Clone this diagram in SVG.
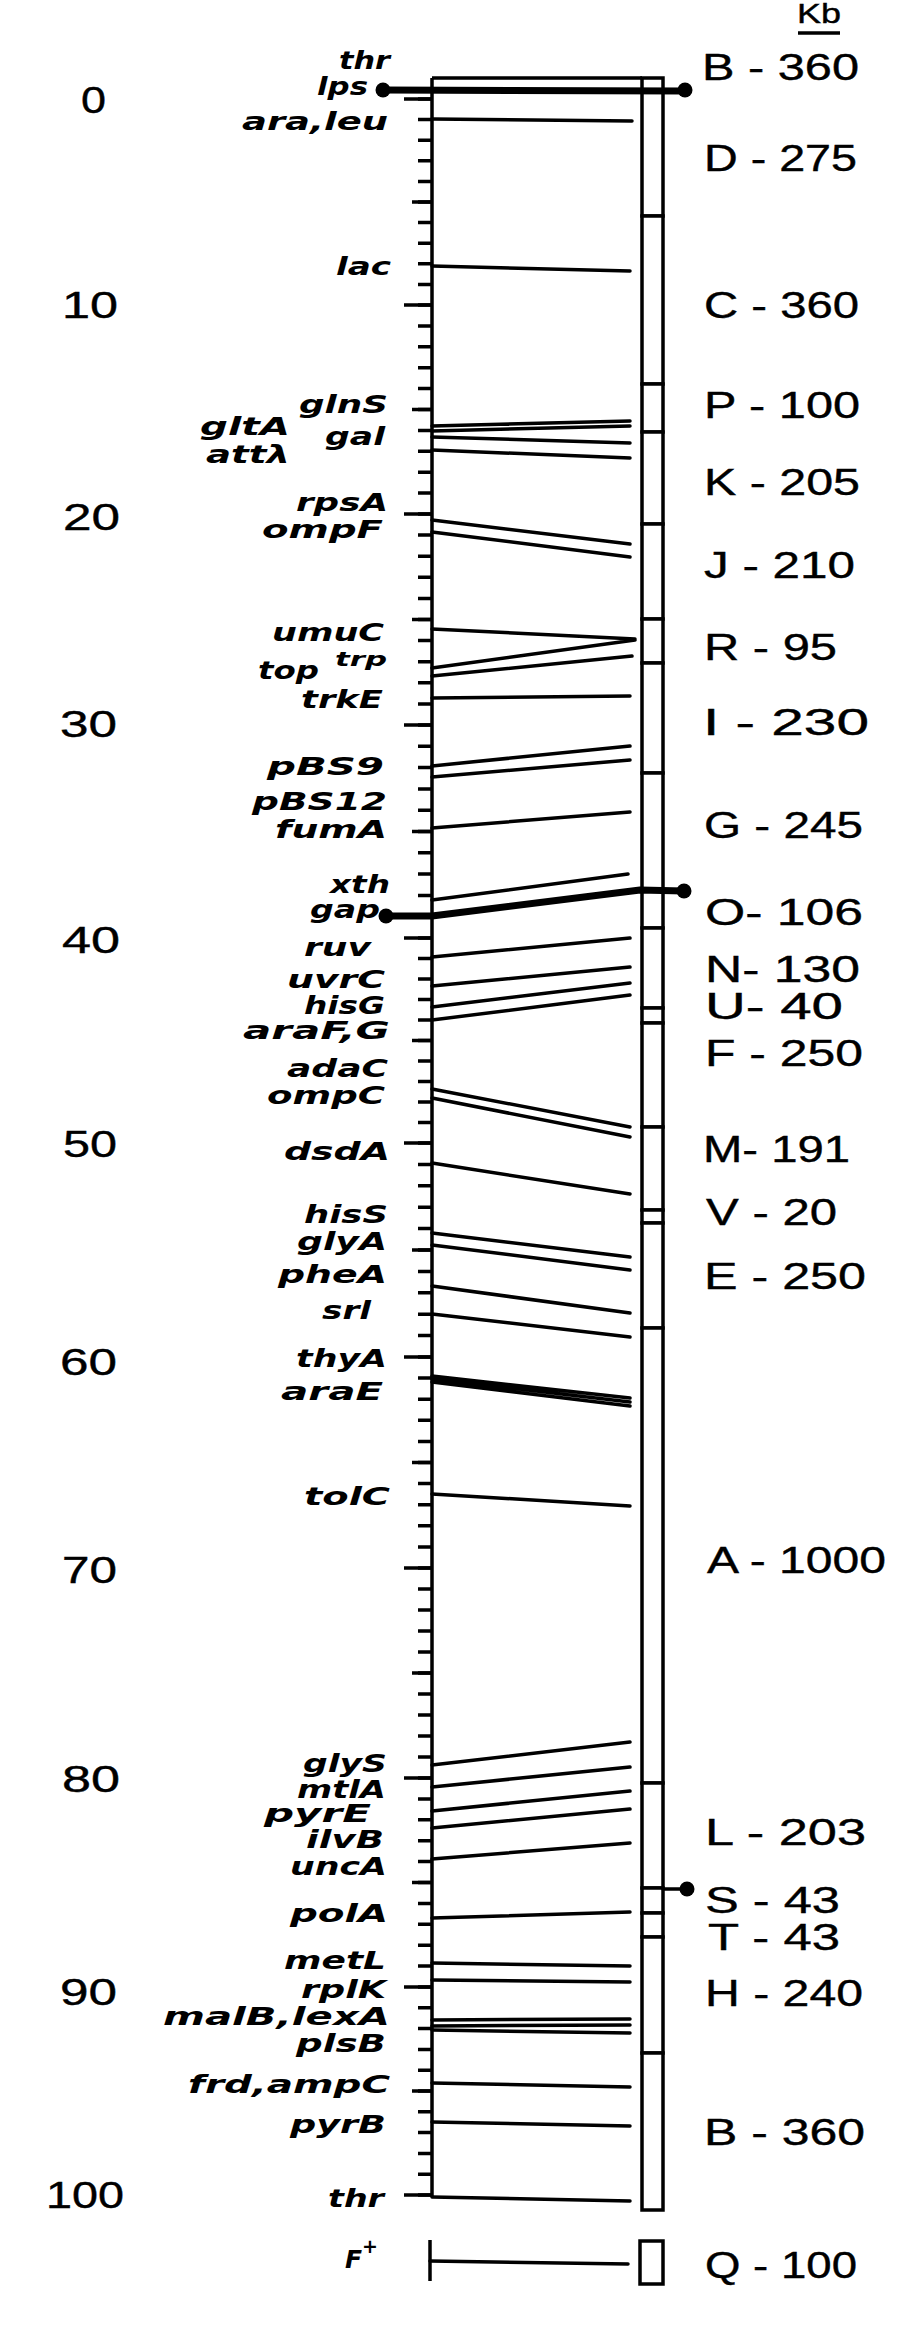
<svg xmlns="http://www.w3.org/2000/svg" width="905" height="2347" viewBox="0 0 905 2347">
<style>
.ln{stroke:#000;stroke-width:3.5;fill:none;stroke-linecap:round}
.tk{stroke:#000;stroke-width:3.5;fill:none}
.th{stroke:#000;stroke-width:7;fill:none;stroke-linecap:round;stroke-linejoin:round}
.seg{stroke:#000;stroke-width:3.5;fill:#fff}
.dot{fill:#000}
.g{font-family:"DejaVu Sans","Liberation Sans",sans-serif;font-style:oblique;font-weight:bold;font-size:25px;fill:#000}
.gs{font-size:19px}
.r{font-family:"Liberation Sans","DejaVu Sans",sans-serif;font-size:37px;fill:#000;stroke:#000;stroke-width:0.4}
.kb{font-size:28px}
</style>
<rect width="905" height="2347" fill="#fff"/>

<g id="scale">
<path class="tk" d="M432 78V2197M432 78H642"/>
<path class="tk" d="M418 99h14m-14 20.6h14m-14 20.6h14m-14 20.6h14m-14 20.6h14m-14 20.6h14m-14 20.6h14m-14 20.6h14m-14 20.6h14m-14 20.6h14
M418 305h14m-14 20.9h14m-14 20.9h14m-14 20.9h14m-14 20.9h14m-14 20.9h14m-14 20.9h14m-14 20.9h14m-14 20.9h14m-14 20.9h14
M418 514h14m-14 21.1h14m-14 21.1h14m-14 21.1h14m-14 21.1h14m-14 21.1h14m-14 21.1h14m-14 21.1h14m-14 21.1h14m-14 21.1h14
M418 725h14m-14 21.3h14m-14 21.3h14m-14 21.3h14m-14 21.3h14m-14 21.3h14m-14 21.3h14m-14 21.3h14m-14 21.3h14m-14 21.3h14
M418 938h14m-14 20.5h14m-14 20.5h14m-14 20.5h14m-14 20.5h14m-14 20.5h14m-14 20.5h14m-14 20.5h14m-14 20.5h14m-14 20.5h14
M418 1143h14m-14 21.4h14m-14 21.4h14m-14 21.4h14m-14 21.4h14m-14 21.4h14m-14 21.4h14m-14 21.4h14m-14 21.4h14m-14 21.4h14
M418 1357h14m-14 21.1h14m-14 21.1h14m-14 21.1h14m-14 21.1h14m-14 21.1h14m-14 21.1h14m-14 21.1h14m-14 21.1h14m-14 21.1h14
M418 1568h14m-14 21h14m-14 21h14m-14 21h14m-14 21h14m-14 21h14m-14 21h14m-14 21h14m-14 21h14m-14 21h14
M418 1778h14m-14 20.9h14m-14 20.9h14m-14 20.9h14m-14 20.9h14m-14 20.9h14m-14 20.9h14m-14 20.9h14m-14 20.9h14m-14 20.9h14
M418 1987h14m-14 20.8h14m-14 20.8h14m-14 20.8h14m-14 20.8h14m-14 20.8h14m-14 20.8h14m-14 20.8h14m-14 20.8h14m-14 20.8h14
M418 2195h14"/>
<path class="tk" d="M412 202h20M412 409.5h20M412 619.5h20M412 831.5h20M412 1040.5h20M412 1250h20M412 1462.5h20M412 1673h20M412 1882.5h20M412 2091h20"/>
<path class="tk" d="M404 99h28M404 305h28M404 514h28M404 725h28M404 938h28M404 1143h28M404 1357h28M404 1568h28M404 1778h28M404 1987h28M404 2195h28"/>
<text class="r" x="81" y="113" textLength="25" lengthAdjust="spacingAndGlyphs">0</text>
<text class="r" x="62" y="318" textLength="56" lengthAdjust="spacingAndGlyphs">10</text>
<text class="r" x="63" y="530" textLength="57" lengthAdjust="spacingAndGlyphs">20</text>
<text class="r" x="60" y="737" textLength="57" lengthAdjust="spacingAndGlyphs">30</text>
<text class="r" x="62" y="953" textLength="58" lengthAdjust="spacingAndGlyphs">40</text>
<text class="r" x="63" y="1157" textLength="54" lengthAdjust="spacingAndGlyphs">50</text>
<text class="r" x="60" y="1375" textLength="57" lengthAdjust="spacingAndGlyphs">60</text>
<text class="r" x="62" y="1583" textLength="55" lengthAdjust="spacingAndGlyphs">70</text>
<text class="r" x="62" y="1792" textLength="58" lengthAdjust="spacingAndGlyphs">80</text>
<text class="r" x="60" y="2005" textLength="57" lengthAdjust="spacingAndGlyphs">90</text>
<text class="r" x="46" y="2208" textLength="78" lengthAdjust="spacingAndGlyphs">100</text>
<g id="kb-header">
<text class="r kb" x="797" y="23" textLength="44" lengthAdjust="spacingAndGlyphs">Kb</text>
<path class="tk" d="M798 33H840"/>
</g>
</g>

<g id="fragments">
<g id="frag-B-top"><rect class="seg" x="642" y="78" width="21" height="12"/><text class="r" x="702" y="80" textLength="157" lengthAdjust="spacingAndGlyphs">B - 360</text></g>
<g id="frag-D"><rect class="seg" x="642" y="90" width="21" height="126"/><text class="r" x="704" y="171" textLength="153" lengthAdjust="spacingAndGlyphs">D - 275</text></g>
<g id="frag-C"><rect class="seg" x="642" y="216" width="21" height="168"/><text class="r" x="704" y="318" textLength="155" lengthAdjust="spacingAndGlyphs">C - 360</text></g>
<g id="frag-P"><rect class="seg" x="642" y="384" width="21" height="48"/><text class="r" x="704" y="418" textLength="156" lengthAdjust="spacingAndGlyphs">P - 100</text></g>
<g id="frag-K"><rect class="seg" x="642" y="432" width="21" height="92"/><text class="r" x="704" y="495" textLength="156" lengthAdjust="spacingAndGlyphs">K - 205</text></g>
<g id="frag-J"><rect class="seg" x="642" y="524" width="21" height="95"/><text class="r" x="704" y="578" textLength="151" lengthAdjust="spacingAndGlyphs">J - 210</text></g>
<g id="frag-R"><rect class="seg" x="642" y="619" width="21" height="44"/><text class="r" x="704" y="660" textLength="133" lengthAdjust="spacingAndGlyphs">R - 95</text></g>
<g id="frag-I"><rect class="seg" x="642" y="663" width="21" height="110"/><text class="r" x="703" y="735" textLength="166" lengthAdjust="spacingAndGlyphs">I - 230</text></g>
<g id="frag-G"><rect class="seg" x="642" y="773" width="21" height="117"/><text class="r" x="704" y="838" textLength="159" lengthAdjust="spacingAndGlyphs">G - 245</text></g>
<g id="frag-O"><rect class="seg" x="642" y="890" width="21" height="38"/><text class="r" x="705" y="925" textLength="158" lengthAdjust="spacingAndGlyphs">O- 106</text></g>
<g id="frag-N"><rect class="seg" x="642" y="928" width="21" height="80"/><text class="r" x="705" y="982" textLength="155" lengthAdjust="spacingAndGlyphs">N- 130</text></g>
<g id="frag-U"><rect class="seg" x="642" y="1008" width="21" height="15"/><text class="r" x="705" y="1019" textLength="138" lengthAdjust="spacingAndGlyphs">U- 40</text></g>
<g id="frag-F"><rect class="seg" x="642" y="1023" width="21" height="104"/><text class="r" x="705" y="1066" textLength="158" lengthAdjust="spacingAndGlyphs">F - 250</text></g>
<g id="frag-M"><rect class="seg" x="642" y="1127" width="21" height="83"/><text class="r" x="703" y="1162" textLength="147" lengthAdjust="spacingAndGlyphs">M- 191</text></g>
<g id="frag-V"><rect class="seg" x="642" y="1210" width="21" height="13"/><text class="r" x="706" y="1225" textLength="131" lengthAdjust="spacingAndGlyphs">V - 20</text></g>
<g id="frag-E"><rect class="seg" x="642" y="1223" width="21" height="105"/><text class="r" x="704" y="1289" textLength="162" lengthAdjust="spacingAndGlyphs">E - 250</text></g>
<g id="frag-A"><rect class="seg" x="642" y="1328" width="21" height="455"/><text class="r" x="707" y="1573" textLength="179" lengthAdjust="spacingAndGlyphs">A - 1000</text></g>
<g id="frag-L"><rect class="seg" x="642" y="1783" width="21" height="105"/><text class="r" x="705" y="1845" textLength="161" lengthAdjust="spacingAndGlyphs">L - 203</text></g>
<g id="frag-S"><rect class="seg" x="642" y="1888" width="21" height="25"/><text class="r" x="705" y="1913" textLength="135" lengthAdjust="spacingAndGlyphs">S - 43</text></g>
<g id="frag-T"><rect class="seg" x="642" y="1913" width="21" height="24"/><text class="r" x="708" y="1950" textLength="132" lengthAdjust="spacingAndGlyphs">T - 43</text></g>
<g id="frag-H"><rect class="seg" x="642" y="1937" width="21" height="116"/><text class="r" x="705" y="2006" textLength="158" lengthAdjust="spacingAndGlyphs">H - 240</text></g>
<g id="frag-B-bottom"><rect class="seg" x="642" y="2053" width="21" height="157"/><text class="r" x="704" y="2145" textLength="161" lengthAdjust="spacingAndGlyphs">B - 360</text></g>
<g id="frag-Q"><rect class="seg" x="640" y="2241" width="23" height="43"/><text class="r" x="705" y="2278" textLength="152" lengthAdjust="spacingAndGlyphs">Q - 100</text></g>
</g>

<g id="genes">
<g id="gene-thr-top"><text class="g" x="339" y="69" textLength="51" lengthAdjust="spacingAndGlyphs">thr</text></g>
<g id="gene-lps"><text class="g" x="317" y="95" textLength="51" lengthAdjust="spacingAndGlyphs">lps</text></g>
<g id="gene-ara-leu"><text class="g" x="242" y="130" textLength="146" lengthAdjust="spacingAndGlyphs">ara,leu</text></g>
<g id="gene-lac"><text class="g" x="336" y="275" textLength="55" lengthAdjust="spacingAndGlyphs">lac</text></g>
<g id="gene-glnS"><text class="g" x="299" y="413" textLength="89" lengthAdjust="spacingAndGlyphs">glnS</text></g>
<g id="gene-gltA"><text class="g" x="200" y="435" textLength="90" lengthAdjust="spacingAndGlyphs">gltA</text></g>
<g id="gene-gal"><text class="g" x="325" y="445" textLength="60" lengthAdjust="spacingAndGlyphs">gal</text></g>
<g id="gene-att"><text class="g" x="206" y="463" textLength="84" lengthAdjust="spacingAndGlyphs">attλ</text></g>
<g id="gene-rpsA"><text class="g" x="296" y="511" textLength="92" lengthAdjust="spacingAndGlyphs">rpsA</text></g>
<g id="gene-ompF"><text class="g" x="262" y="538" textLength="121" lengthAdjust="spacingAndGlyphs">ompF</text></g>
<g id="gene-umuC"><text class="g" x="272" y="641" textLength="112" lengthAdjust="spacingAndGlyphs">umuC</text></g>
<g id="gene-trp"><text class="g gs" x="335" y="666" textLength="52" lengthAdjust="spacingAndGlyphs">trp</text></g>
<g id="gene-top"><text class="g" x="258" y="679" textLength="61" lengthAdjust="spacingAndGlyphs">top</text></g>
<g id="gene-trkE"><text class="g" x="301" y="708" textLength="82" lengthAdjust="spacingAndGlyphs">trkE</text></g>
<g id="gene-pBS9"><text class="g" x="267" y="775" textLength="117" lengthAdjust="spacingAndGlyphs">pBS9</text></g>
<g id="gene-pBS12"><text class="g" x="252" y="810" textLength="135" lengthAdjust="spacingAndGlyphs">pBS12</text></g>
<g id="gene-fumA"><text class="g" x="275" y="838" textLength="112" lengthAdjust="spacingAndGlyphs">fumA</text></g>
<g id="gene-xth"><text class="g" x="330" y="893" textLength="60" lengthAdjust="spacingAndGlyphs">xth</text></g>
<g id="gene-gap"><text class="g" x="310" y="918" textLength="70" lengthAdjust="spacingAndGlyphs">gap</text></g>
<g id="gene-ruv"><text class="g" x="304" y="956" textLength="67" lengthAdjust="spacingAndGlyphs">ruv</text></g>
<g id="gene-uvrC"><text class="g" x="287" y="988" textLength="98" lengthAdjust="spacingAndGlyphs">uvrC</text></g>
<g id="gene-hisG"><text class="g" x="304" y="1014" textLength="81" lengthAdjust="spacingAndGlyphs">hisG</text></g>
<g id="gene-araFG"><text class="g" x="243" y="1039" textLength="147" lengthAdjust="spacingAndGlyphs">araF,G</text></g>
<g id="gene-adaC"><text class="g" x="287" y="1077" textLength="101" lengthAdjust="spacingAndGlyphs">adaC</text></g>
<g id="gene-ompC"><text class="g" x="267" y="1104" textLength="118" lengthAdjust="spacingAndGlyphs">ompC</text></g>
<g id="gene-dsdA"><text class="g" x="284" y="1160" textLength="106" lengthAdjust="spacingAndGlyphs">dsdA</text></g>
<g id="gene-hisS"><text class="g" x="304" y="1223" textLength="84" lengthAdjust="spacingAndGlyphs">hisS</text></g>
<g id="gene-glyA"><text class="g" x="297" y="1250" textLength="90" lengthAdjust="spacingAndGlyphs">glyA</text></g>
<g id="gene-pheA"><text class="g" x="278" y="1283" textLength="109" lengthAdjust="spacingAndGlyphs">pheA</text></g>
<g id="gene-srl"><text class="g" x="322" y="1319" textLength="49" lengthAdjust="spacingAndGlyphs">srl</text></g>
<g id="gene-thyA"><text class="g" x="296" y="1367" textLength="91" lengthAdjust="spacingAndGlyphs">thyA</text></g>
<g id="gene-araE"><text class="g" x="281" y="1400" textLength="102" lengthAdjust="spacingAndGlyphs">araE</text></g>
<g id="gene-tolC"><text class="g" x="304" y="1505" textLength="86" lengthAdjust="spacingAndGlyphs">tolC</text></g>
<g id="gene-glyS"><text class="g" x="303" y="1772" textLength="84" lengthAdjust="spacingAndGlyphs">glyS</text></g>
<g id="gene-mtlA"><text class="g" x="297" y="1798" textLength="89" lengthAdjust="spacingAndGlyphs">mtlA</text></g>
<g id="gene-pyrE"><text class="g" x="264" y="1822" textLength="107" lengthAdjust="spacingAndGlyphs">pyrE</text></g>
<g id="gene-ilvB"><text class="g" x="306" y="1848" textLength="78" lengthAdjust="spacingAndGlyphs">ilvB</text></g>
<g id="gene-uncA"><text class="g" x="290" y="1875" textLength="97" lengthAdjust="spacingAndGlyphs">uncA</text></g>
<g id="gene-polA"><text class="g" x="290" y="1922" textLength="98" lengthAdjust="spacingAndGlyphs">polA</text></g>
<g id="gene-metL"><text class="g" x="284" y="1969" textLength="102" lengthAdjust="spacingAndGlyphs">metL</text></g>
<g id="gene-rplK"><text class="g" x="301" y="1998" textLength="85" lengthAdjust="spacingAndGlyphs">rplK</text></g>
<g id="gene-malB-lexA"><text class="g" x="163" y="2025" textLength="227" lengthAdjust="spacingAndGlyphs">malB,lexA</text></g>
<g id="gene-plsB"><text class="g" x="296" y="2052" textLength="90" lengthAdjust="spacingAndGlyphs">plsB</text></g>
<g id="gene-frd-ampC"><text class="g" x="188" y="2093" textLength="202" lengthAdjust="spacingAndGlyphs">frd,ampC</text></g>
<g id="gene-pyrB"><text class="g" x="290" y="2133" textLength="96" lengthAdjust="spacingAndGlyphs">pyrB</text></g>
<g id="gene-thr-bottom"><text class="g" x="328" y="2207" textLength="56" lengthAdjust="spacingAndGlyphs">thr</text></g>
<g id="gene-Fplus"><text class="g" x="345" y="2268">F<tspan class="gs" dy="-15">+</tspan></text></g>
</g>

<g id="connectors">
<path class="th" d="M383 90L685 91"/>
<circle class="dot" cx="383" cy="90" r="7.5"/>
<circle class="dot" cx="685" cy="90" r="7.5"/>
<path class="th" d="M386 916H432L640 890L684 891"/>
<circle class="dot" cx="386" cy="916" r="7.5"/>
<circle class="dot" cx="684" cy="891" r="7.5"/>
<path class="ln" d="M663 1889H687"/>
<circle class="dot" cx="687" cy="1889" r="7.5"/>
<path class="ln" d="M432 119L632 121M432 266L630 271
M432 426L630 421M432 431L630 426M432 437L630 443M432 450L630 458
M432 520L630 544M432 532L630 557
M432 629L635 639M432 668L635 640M432 676L632 656
M432 698L630 696M432 766L630 746M432 777L630 760M432 828L630 812
M432 900L628 874M432 957L630 938M432 986L630 967M432 1007L630 983M432 1020L630 995
M432 1089L630 1127M432 1098L630 1137M432 1163L630 1194
M432 1233L630 1257M432 1245L630 1270M432 1286L630 1313M432 1314L630 1337
M432 1376L630 1398M432 1379L630 1402M432 1382L630 1406M432 1494L630 1506
M432 1765L630 1742M432 1787L630 1767M432 1811L630 1791M432 1828L630 1809M432 1859L630 1843
M432 1918L630 1912M432 1963L630 1966M432 1980L630 1982
M432 2020L630 2019M432 2026L630 2025M432 2030L630 2033
M432 2083L630 2087M432 2122L630 2126M432 2197L630 2201"/>
<path class="tk" d="M430 2240V2281"/>
<path class="ln" d="M430 2261L628 2264"/>
</g>
</svg>
